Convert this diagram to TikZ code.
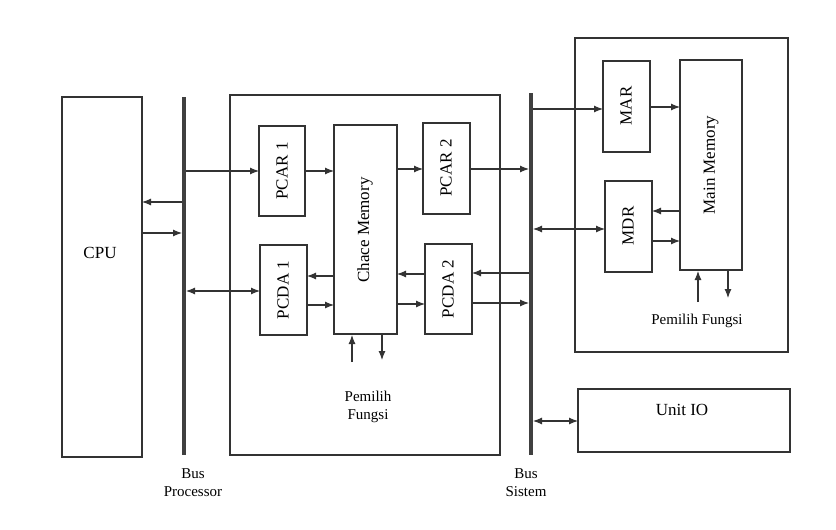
\documentclass[tikz,border=0pt]{standalone}
\usepackage{fontspec}
\setmainfont{Liberation Serif}
\usetikzlibrary{arrows.meta}
\begin{document}
\begin{tikzpicture}[x=1pt,y=-1pt,
  ln/.style={draw=black!80,line width=1.1pt},
  bx/.style={ln,fill=none},
  ar/.style={ln,-{Latex[length=9pt,width=7pt]}},
  bar/.style={ln,{Latex[length=9pt,width=7pt]}-{Latex[length=9pt,width=7pt]}},
  bus/.style={draw=black!75,line width=4pt},
  lbl/.style={font=\fontsize{15}{18}\selectfont,align=center},
  rl/.style={lbl,rotate=90,font=\fontsize{17}{18}\selectfont}]
\useasboundingbox (0,0) rectangle (836,530);
% boxes
\draw[bx] (62,97) rectangle (142,457); \node[lbl,font=\fontsize{17}{18}\selectfont] (cpu) at (100,253) {CPU};
\draw[bx] (230,95) rectangle (500,455);
\draw[bx] (575,38) rectangle (788,352);
\draw[bx] (578,389) rectangle (790,452); \node[lbl,font=\fontsize{17}{18}\selectfont] (io) at (682,410) {Unit IO};
\draw[bx] (259,126) rectangle (305,216); \node[rl] (pcar1) at (282,171) {PCAR 1};
\draw[bx] (260,245) rectangle (307,335); \node[rl] (pcda1) at (283,290) {PCDA 1};
\draw[bx] (334,125) rectangle (397,334); \node[rl] (cm) at (365,230) {Chace Memory};
\draw[bx] (423,123) rectangle (470,214); \node[rl] (pcar2) at (446,168) {PCAR 2};
\draw[bx] (425,244) rectangle (472,334); \node[rl] (pcda2) at (448,289) {PCDA 2};
\draw[bx] (603,61) rectangle (650,152); \node[rl] (mar) at (626,106) {MAR};
\draw[bx] (605,181) rectangle (652,272); \node[rl] (mdr) at (628,226) {MDR};
\draw[bx] (680,60) rectangle (742,270); \node[rl] (mm) at (711,165) {Main Memory};
% buses
\draw[bus] (184,97) -- (184,455);
\draw[bus] (531,93) -- (531,455);
\node[lbl] (bp) at (193,483) {Bus\\Processor};
\node[lbl] (bs) at (526,483) {Bus\\Sistem};
% CPU
\draw[ar] (182,202) -- (142,202);
\draw[ar] (142,233) -- (182,233);
% cache section
\draw[ar] (186,171) -- (259,171);
\draw[ar] (305,171) -- (334,171);
\draw[ar] (397,169) -- (423,169);
\draw[ar] (470,169) -- (529,169);
\draw[bar] (186,291) -- (260,291);
\draw[ar] (334,276) -- (307,276);
\draw[ar] (307,305) -- (334,305);
\draw[ar] (425,274) -- (397,274);
\draw[ar] (397,304) -- (425,304);
\draw[ar] (529,273) -- (472,273);
\draw[ar] (472,303) -- (529,303);
\draw[ar] (352,362) -- (352,335);
\draw[ar] (382,334) -- (382,360);
\node[lbl] (pf1) at (368,407) {Pemilih\\Fungsi};
% memory
\draw[ar] (533,109) -- (603,109);
\draw[ar] (650,107) -- (680,107);
\draw[bar] (533,229) -- (605,229);
\draw[ar] (680,211) -- (652,211);
\draw[ar] (652,241) -- (680,241);
\draw[ar] (698,302) -- (698,271);
\draw[ar] (728,270) -- (728,298);
\node[lbl] (pf2) at (697,321) {Pemilih Fungsi};
\draw[bar] (533,421) -- (578,421);
\end{tikzpicture}
\end{document}
